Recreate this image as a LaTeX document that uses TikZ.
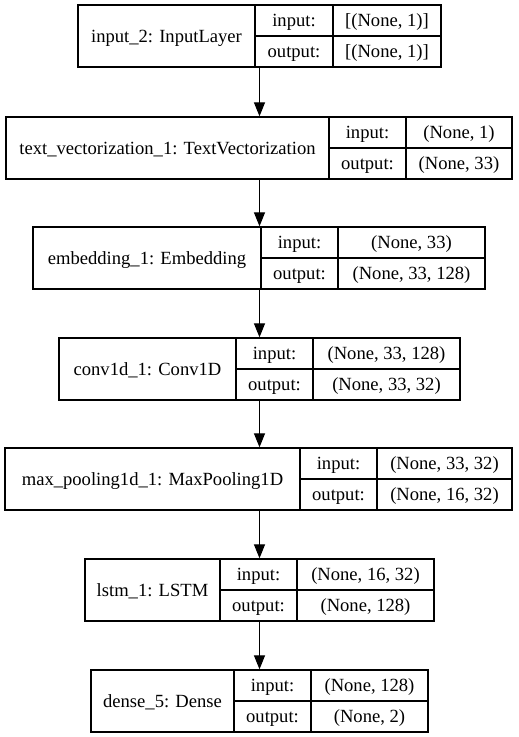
\documentclass[tikz,border=0pt]{standalone}
\usepackage{fontspec}
\setmainfont{Liberation Serif}
\usepackage{tikz}
\usetikzlibrary{positioning}
\usetikzlibrary{arrows.meta}
\tikzstyle{layer}=[draw,line width=1.3pt,inner sep=0pt,minimum height=62pt]
\tikzstyle{cell}=[draw,line width=1.3pt,inner sep=0pt,minimum height=31pt,text height=16pt,text depth=4pt]
\tikzstyle{edge} = [draw,line width=1.2pt,-{Triangle[length=14pt,width=11pt]}]

\begin{document}
\begin{tikzpicture}[x=1pt,y=-1pt,font=\fontsize{18.6}{22}\selectfont]
    \useasboundingbox (0,0) rectangle (519,737);
    % First we draw the layers: name cell, then input and output shapes
    \foreach \name/\ty/\xa/\xb/\xc/\xd/\lbl/\shin/\shout in {
        inp/5/78/255/333/441/{input\_2: InputLayer}/{[(None, 1)]}/{[(None, 1)]},
        tv/117/6/329/406/512/{text\_vectorization\_1: TextVectorization}/{(None, 1)}/{(None, 33)},
        emb/227/33/261/338/485/{embedding\_1: Embedding}/{(None, 33)}/{(None, 33, 128)},
        conv/338/59/236/313/460/{conv1d\_1: Conv1D}/{(None, 33, 128)}/{(None, 33, 32)},
        pool/448/5/300/377/512/{max\_pooling1d\_1: MaxPooling1D}/{(None, 33, 32)}/{(None, 16, 32)},
        lstm/559/85/220/297/434/{lstm\_1: LSTM}/{(None, 16, 32)}/{(None, 128)},
        dense/670/91/234/311/428/{dense\_5: Dense}/{(None, 128)}/{(None, 2)}}
    {
        \node[layer, minimum width={\xd-\xa}] (\name) at ({(\xa+\xd)/2},{\ty+31}) {};
        \node[cell, minimum width={\xb-\xa}, minimum height=62pt] (\name-lbl) at ({(\xa+\xb)/2},{\ty+31}) {\lbl};
        \node[cell, minimum width={\xc-\xb}] (\name-in) at ({(\xb+\xc)/2},{\ty+15.5}) {input:};
        \node[cell, minimum width={\xd-\xc}] (\name-inv) at ({(\xc+\xd)/2},{\ty+15.5}) {\shin};
        \node[cell, minimum width={\xc-\xb}] (\name-out) at ({(\xb+\xc)/2},{\ty+46.5}) {output:};
        \node[cell, minimum width={\xd-\xc}] (\name-outv) at ({(\xc+\xd)/2},{\ty+46.5}) {\shout};
    }

    % Then the arrows between the layers, all on one vertical
    \foreach \source/\dest in {inp/tv, tv/emb, emb/conv, conv/pool, pool/lstm, lstm/dense}
        \path[edge] (\source.south -| inp.south) -- (\dest.north -| inp.south);
\end{tikzpicture}
\end{document}
